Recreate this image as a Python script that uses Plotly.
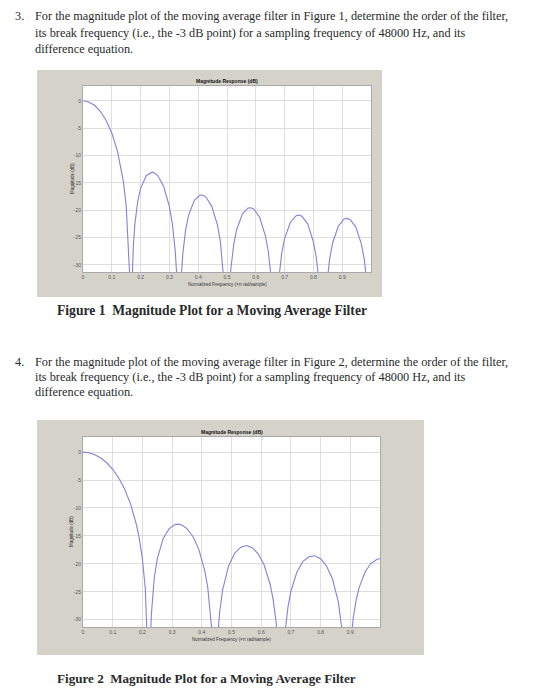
import plotly.graph_objects as go

# ---------------- data ----------------
x_ticks = [0, 0.1, 0.2, 0.3, 0.4, 0.5, 0.6, 0.7, 0.8, 0.9]
x_tick_labels = ["0", "0.1", "0.2", "0.3", "0.4", "0.5", "0.6", "0.7", "0.8", "0.9"]
y_ticks = [0, -5, -10, -15, -20, -25, -30]
y_tick_labels = ["0", "-5", "-10", "-15", "-20", "-25", "-30"]

# Figure 1 magnitude response (dB), lobes separated by None
freq1 = [0, 0.02, 0.04, 0.06, 0.08, 0.10, 0.12, 0.14, 0.15, 0.16, 0.163, 0.1667, None,
         0.1667, 0.17, 0.175, 0.18, 0.19, 0.20, 0.22, 0.24, 0.25, 0.26, 0.28, 0.30, 0.31, 0.32, 0.325, 0.33, 0.3333, None,
         0.3333, 0.3367, 0.3417, 0.3467, 0.3567, 0.3667, 0.3867, 0.4067, 0.4167, 0.4267, 0.4467, 0.4667, 0.4767, 0.4867, 0.4917, 0.4967, 0.5, None,
         0.5, 0.5033, 0.5083, 0.5133, 0.5233, 0.5333, 0.5533, 0.5733, 0.5833, 0.5933, 0.6133, 0.6333, 0.6433, 0.6533, 0.6633, 0.6667, None,
         0.6667, 0.67, 0.675, 0.68, 0.69, 0.70, 0.72, 0.74, 0.75, 0.76, 0.78, 0.80, 0.81, 0.82, 0.83, 0.8333, None,
         0.8333, 0.8367, 0.8417, 0.8467, 0.8567, 0.8667, 0.8867, 0.9067, 0.9167, 0.9267, 0.9467, 0.9667, 0.9767, 0.9867, 0.9917, 0.9967, 1.0]
mag1 = [0, -0.21, -0.83, -1.92, -3.57, -5.90, -9.30, -14.7, -19.2, -27.6, -32.9, -60, None,
        -60, -34.1, -26.4, -22.6, -18.4, -16.0, -13.66, -13.06, -13.24, -13.72, -15.64, -19.34, -22.4, -27.3, -31.5, -39.5, -60, None,
        -60, -39.7, -31.9, -27.9, -23.5, -20.9, -18.19, -17.25, -17.27, -17.6, -19.25, -22.7, -25.6, -30.5, -34.6, -42.6, -60, None,
        -60, -42.7, -34.8, -30.8, -26.3, -23.6, -20.7, -19.6, -19.57, -19.8, -21.3, -24.7, -27.5, -32.3, -44.3, -60, None,
        -60, -44.4, -36.5, -32.5, -27.9, -25.2, -22.2, -21.0, -20.9, -21.1, -22.5, -25.8, -28.6, -33.3, -45.3, -60, None,
        -60, -45.3, -37.4, -33.4, -28.8, -26.0, -22.9, -21.6, -21.5, -21.7, -23.0, -26.2, -29.0, -33.6, -37.7, -45.6, -60]

# Figure 2 magnitude response (dB)
freq2 = [0, 0.02, 0.04, 0.06, 0.08, 0.10, 0.12, 0.14, 0.16, 0.18, 0.19, 0.20, 0.21, 0.215, 0.22, 0.2222, None,
         0.2222, 0.225, 0.23, 0.24, 0.25, 0.27, 0.29, 0.31, 0.32, 0.3333, 0.35, 0.37, 0.39, 0.41, 0.42, 0.43, 0.435, 0.44, 0.4444, None,
         0.4444, 0.45, 0.455, 0.46, 0.47, 0.49, 0.51, 0.53, 0.55, 0.57, 0.59, 0.61, 0.63, 0.64, 0.65, 0.655, 0.66, 0.6667, None,
         0.6667, 0.67, 0.675, 0.68, 0.69, 0.70, 0.72, 0.74, 0.76, 0.78, 0.80, 0.82, 0.84, 0.86, 0.87, 0.875, 0.88, 0.885, 0.8889, None,
         0.8889, 0.89, 0.895, 0.90, 0.905, 0.91, 0.92, 0.93, 0.95, 0.97, 0.99, 1.0]
mag2 = [0, -0.11, -0.46, -1.06, -1.91, -3.08, -4.61, -6.60, -9.26, -13.0, -15.6, -19.1, -24.6, -29.3, -39.7, -60, None,
        -60, -38.0, -29.2, -22.5, -19.1, -15.45, -13.70, -12.97, -12.90, -13.06, -13.69, -15.1, -17.4, -21.25, -24.2, -28.9, -32.6, -39.3, -60, None,
        -60, -37.5, -32.0, -28.7, -24.7, -20.4, -18.15, -17.05, -16.73, -17.1, -18.2, -20.2, -23.65, -26.3, -30.3, -33.5, -38.4, -60, None,
        -60, -44.4, -36.5, -32.5, -27.8, -24.9, -21.5, -19.6, -18.73, -18.56, -19.08, -20.4, -22.7, -26.9, -30.5, -33.1, -37.0, -44.1, -60, None,
        -60, -55.0, -40.2, -35.1, -31.9, -29.6, -26.4, -24.2, -21.4, -19.9, -19.17, -19.08]

q3_lines = ["For the magnitude plot of the moving average filter in Figure 1, determine the order of the filter,",
            "its break frequency (i.e., the -3 dB point) for a sampling frequency of 48000 Hz, and its",
            "difference equation."]
q4_lines = ["For the magnitude plot of the moving average filter in Figure 2, determine the order of the filter,",
            "its break frequency (i.e., the -3 dB point) for a sampling frequency of 48000 Hz, and its",
            "difference equation."]
caption1 = "Figure 1  Magnitude Plot for a Moving Average Filter"
caption2 = "Figure 2  Magnitude Plot for a Moving Average Filter"
plot_title = "Magnitude Response (dB)"
x_title = "Normalized Frequency (\u00d7\u03c0 rad/sample)"
y_title = "Magnitude (dB)"

# ---------------- layout helpers ----------------
W, H = 552, 700
def px(x):
    return x / W
def py(y):
    return 1 - y / H

LINE = "#8282dc"
PANEL = "#d5d2ca"
GRID = "#dedede"
BOX = "#a8a8a8"
TXT = "#2a2a2a"
SERIF = "Liberation Serif, Times New Roman, serif"
SANS = "Arial, Liberation Sans, sans-serif"

fig = go.Figure()
fig.add_trace(go.Scatter(x=freq1, y=mag1, mode="lines", xaxis="x", yaxis="y",
                         line=dict(color=LINE, width=1.1), hoverinfo="skip", showlegend=False))
fig.add_trace(go.Scatter(x=freq2, y=mag2, mode="lines", xaxis="x2", yaxis="y2",
                         line=dict(color=LINE, width=1.1), hoverinfo="skip", showlegend=False))

# plot geometry (pixels)
P1 = dict(l=83, r=371, t=86, b=272, pl=37, pr=382, pt=70, pb=297)
P2 = dict(l=83, r=380, t=437, b=627, pl=37, pr=424, pt=420, pb=655)

def xax(p, anchor):
    return dict(domain=[px(p["l"]), px(p["r"])], anchor=anchor, range=[0, 1],
                tickmode="array", tickvals=x_ticks, ticktext=x_tick_labels,
                showgrid=True, gridcolor=GRID, gridwidth=1, zeroline=False,
                showline=True, mirror=True, linecolor=BOX, linewidth=1,
                ticks="", tickfont=dict(size=5, color="#555", family=SANS), fixedrange=True)

def yax(p, anchor):
    return dict(domain=[py(p["b"]), py(p["t"])], anchor=anchor, range=[-31.3, 2.7],
                tickmode="array", tickvals=y_ticks, ticktext=y_tick_labels,
                showgrid=True, gridcolor=GRID, gridwidth=1, zeroline=False,
                showline=True, mirror=True, linecolor=BOX, linewidth=1,
                ticks="", tickfont=dict(size=5, color="#555", family=SANS), fixedrange=True)

shapes = []
for p in (P1, P2):
    shapes.append(dict(type="rect", xref="paper", yref="paper", layer="below",
                       x0=px(p["pl"]), x1=px(p["pr"]), y0=py(p["pb"]), y1=py(p["pt"]),
                       fillcolor=PANEL, line=dict(width=0)))
    shapes.append(dict(type="rect", xref="paper", yref="paper", layer="below",
                       x0=px(p["l"]), x1=px(p["r"]), y0=py(p["b"]), y1=py(p["t"]),
                       fillcolor="white", line=dict(width=0)))

ann = []
def text(x, y, s, size, bold=False, family=SERIF, color=TXT, xanchor="left", angle=0):
    ann.append(dict(x=px(x), y=py(y), xref="paper", yref="paper", text=("<b>%s</b>" % s) if bold else s,
                    showarrow=False, xanchor=xanchor, yanchor="middle", textangle=angle,
                    font=dict(size=size, family=family, color=color)))

FS = 12.3
text(13, 16, "3.", FS)
for i, s in enumerate(q3_lines):
    text(33, 16 + 16.5 * i, s, FS)
text(13, 362, "4.", FS)
for i, s in enumerate(q4_lines):
    text(33, 362 + 15 * i, s, FS)
text(55, 310, caption1, 13.6, bold=True)
text(55, 678, caption2, 13.1, bold=True)

# chart texts
for p, ty, xy, yx in ((P1, 81, 284, 72), (P2, 432, 639, 71)):
    cx = (p["l"] + p["r"]) / 2
    text(cx, ty, plot_title, 5, bold=True, family=SANS, color="#111", xanchor="center")
    text(cx, xy, x_title, 4.5, family=SANS, color="#333", xanchor="center")
    text(yx, (p["t"] + p["b"]) / 2, y_title, 4.5, family=SANS, color="#333", xanchor="center", angle=-90)

fig.update_layout(
    width=W, height=H, autosize=False,
    margin=dict(l=0, r=0, t=0, b=0, pad=0),
    paper_bgcolor="white", plot_bgcolor="rgba(0,0,0,0)",
    xaxis=xax(P1, "y"), yaxis=yax(P1, "x"),
    xaxis2=xax(P2, "y2"), yaxis2=yax(P2, "x2"),
    shapes=shapes, annotations=ann, showlegend=False,
)

fig.write_html("out.html", config={"displayModeBar": False, "staticPlot": True},
               post_script="document.body.style.margin='0';")
